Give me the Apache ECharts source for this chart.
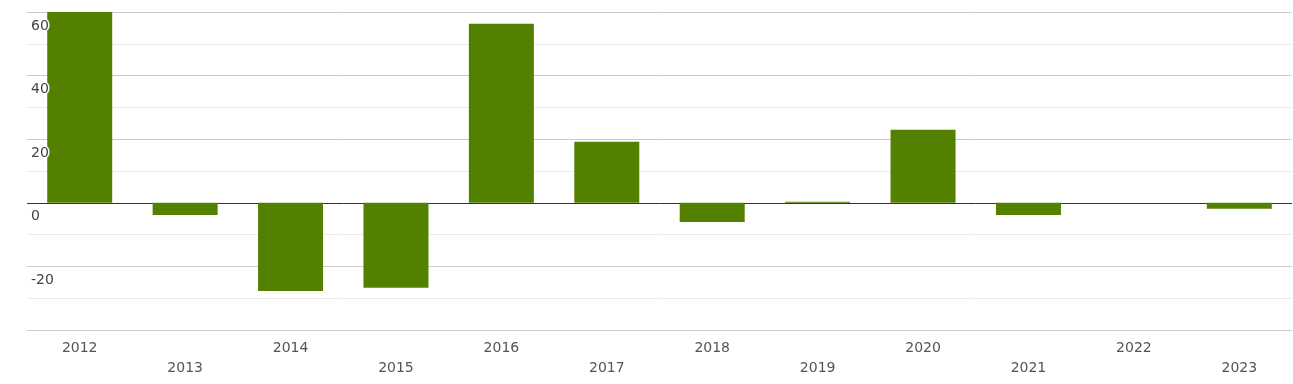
<!DOCTYPE html>
<html>
<head>
<meta charset="utf-8">
<script src="https://cdn.jsdelivr.net/npm/echarts@6/dist/echarts.min.js"></script>
<style>html,body{margin:0;padding:0;background:#fff}#c{width:1293px;height:384px}</style>
</head>
<body>
<div id="c"></div>
<script>
const categories = ['2012','2013','2014','2015','2016','2017','2018','2019','2020','2021','2022','2023'];
const values = [60, -3.8, -27.7, -26.7, 56.3, 19.2, -6.0, 0.3, 23.0, -3.8, 0, -1.9];
const yTicks = { min: -40, max: 60, interval: 20 };

const chart = echarts.init(document.getElementById('c'), null, { renderer: 'canvas' });
chart.setOption({
  animation: false,
  grid: { left: 27, right: 1, top: 12, bottom: 54, containLabel: false },
  xAxis: {
    type: 'category',
    data: categories,
    axisLine: { show: false },
    axisTick: { show: false },
    axisLabel: {
      interval: 0,
      margin: 8,
      fontSize: 14,
      lineHeight: 20,
      color: '#555',
      fontFamily: 'DejaVu Sans',
      formatter: (v, i) => (i % 2 === 1 ? '\n' + v : v)
    }
  },
  yAxis: [{
    type: 'value',
    min: yTicks.min, max: yTicks.max, interval: yTicks.interval,
    axisLine: { show: false },
    axisTick: { show: false },
    axisLabel: { show: false },
    splitLine: { lineStyle: { color: ['#ccc', '#ccc', '#333', '#ccc', '#ccc', '#ccc'], width: 1 } },
    minorTick: { show: false, splitNumber: 2 },
    minorSplitLine: { show: true, lineStyle: { color: '#ececec', width: 1 } },
    z: 0
  }, {
    type: 'value',
    position: 'left',
    min: yTicks.min, max: yTicks.max, interval: yTicks.interval,
    axisLine: { show: false },
    axisTick: { show: false },
    splitLine: { show: false },
    axisLabel: {
      inside: true,
      margin: 4,
      fontSize: 14,
      lineHeight: 28,
      verticalAlign: 'top',
      color: '#444',
      fontFamily: 'DejaVu Sans',
      textBorderColor: '#fff',
      textBorderWidth: 3,
      formatter: v => (v === yTicks.min ? '' : String(v))
    },
    z: 10
  }],
  series: [{
    type: 'bar',
    data: values,
    barWidth: 65,
    itemStyle: { color: '#548000' },
    z: 2
  }]
});
</script>
</body>
</html>
